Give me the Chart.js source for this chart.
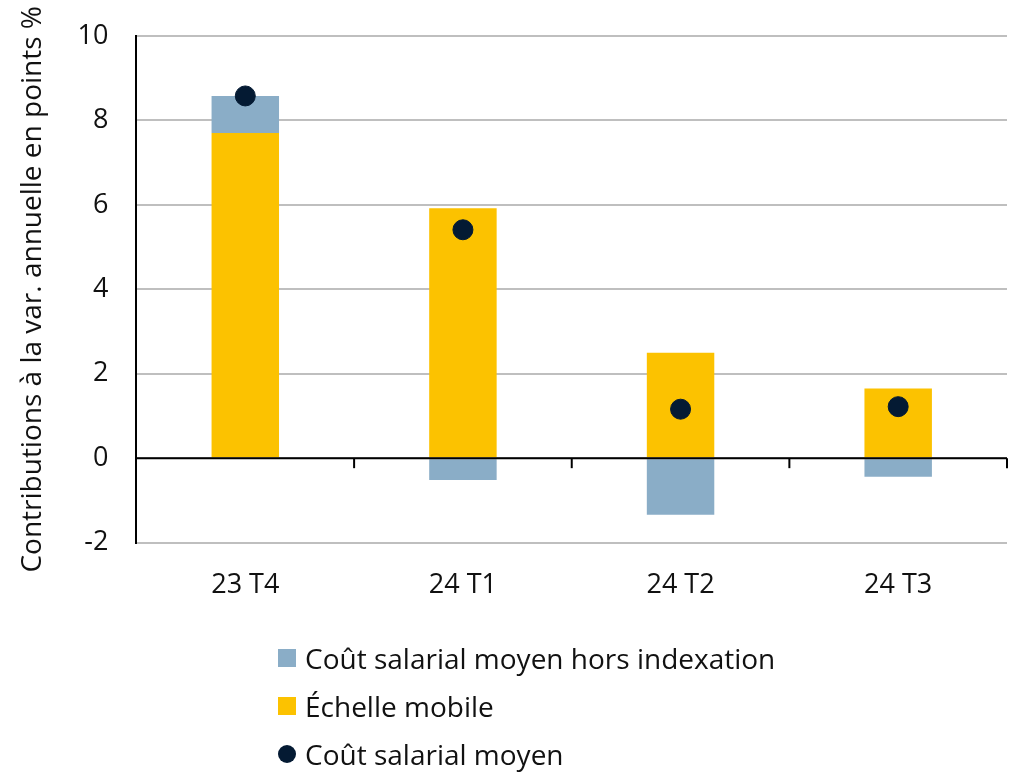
<!DOCTYPE html>
<html>
<head>
<meta charset="utf-8">
<script src="https://cdn.jsdelivr.net/npm/chart.js@4"></script>
<style>
  body { margin: 0; background: #fff; font-family: "Open Sans", sans-serif; }
  #wrap { position: relative; width: 1028px; height: 778px; }
  #legend { position: absolute; left: 278px; top: 634px; }
  .item { display: flex; align-items: center; height: 48px; font-size: 28px; color: #111; }
  .box { width: 18px; height: 18px; margin-right: 9px; }
  .dot { width: 18px; height: 18px; border-radius: 50%; margin-right: 9px; }
</style>
</head>
<body>
<div id="wrap">
  <canvas id="chart" width="1028" height="778"></canvas>
  <div id="legend"></div>
</div>
<script>
// valeurs
const labels = ['23 T4', '24 T1', '24 T2', '24 T3'];
const echelleMobile = [7.70, 5.92, 2.50, 1.65];
const horsIndexation = [0.88, -0.52, -1.34, -0.44];
const coutSalarial = [8.58, 5.41, 1.16, 1.22];
const yTicks = [-2, 0, 2, 4, 6, 8, 10];

const blue = '#8aadc7';
const yellow = '#fcc200';
const navy = '#041a33';

// ligne du zero + petits traits entre categories
const zeroLine = {
  id: 'zeroLine',
  afterDatasetsDraw(chart) {
    const ctx = chart.ctx;
    const x = chart.scales.x, y = chart.scales.y;
    const y0 = y.getPixelForValue(0);
    ctx.save();
    ctx.strokeStyle = '#000';
    ctx.lineWidth = 2;
    ctx.beginPath();
    ctx.moveTo(chart.chartArea.left, y0);
    ctx.lineTo(chart.chartArea.right, y0);
    ctx.stroke();
    for (let i = 1; i <= labels.length; i++) {
      const px = x.getPixelForValue(i - 0.5);
      ctx.beginPath();
      ctx.moveTo(px, y0);
      ctx.lineTo(px, y0 + 10);
      ctx.stroke();
    }
    ctx.restore();
  }
};

const data = {
  labels: labels,
  datasets: [
    {
      type: 'line',
      label: 'Coût salarial moyen',
      data: coutSalarial,
      showLine: false,
      pointRadius: 10,
      pointHoverRadius: 10,
      backgroundColor: navy,
      borderColor: navy,
      stack: 'dots',
      order: 0
    },
    {
      label: 'Échelle mobile',
      data: echelleMobile,
      backgroundColor: yellow,
      stack: 'bars',
      order: 1
    },
    {
      label: 'Coût salarial moyen hors indexation',
      data: horsIndexation,
      backgroundColor: blue,
      stack: 'bars',
      order: 2
    }
  ]
};

const config = {
  type: 'bar',
  data: data,
  options: {
    responsive: false,
    animation: false,
    layout: { padding: { top: 36, right: 21, bottom: 157, left: 16 } },
    datasets: { bar: { categoryPercentage: 1, barPercentage: 0.31 } },
    plugins: { legend: { display: false }, tooltip: { enabled: false } },
    scales: {
      x: {
        stacked: true,
        grid: { display: false },
        border: { display: false },
        ticks: { color: '#111', font: { family: 'Open Sans', size: 27 }, padding: 19 }
      },
      y: {
        stacked: true,
        min: -2,
        max: 10,
        afterBuildTicks: (axis) => { axis.ticks = yTicks.map(v => ({ value: v })); },
        afterFit: (scale) => { scale.paddingTop = 0; },
        grid: { color: '#bfbfbf', lineWidth: 2, drawTicks: false },
        border: { display: true, color: '#000', width: 2 },
        ticks: { color: '#111', font: { family: 'Open Sans', size: 27 }, padding: 28 },
        title: {
          display: true,
          text: 'Contributions à la var. annuelle en points %',
          color: '#111',
          font: { family: 'Open Sans', size: 28 },
          padding: 0
        }
      }
    }
  },
  plugins: [zeroLine]
};

new Chart(document.getElementById('chart'), config);

// legende en html, meme ordre que la reference
const legendItems = [
  { text: 'Coût salarial moyen hors indexation', color: blue, cls: 'box' },
  { text: 'Échelle mobile', color: yellow, cls: 'box' },
  { text: 'Coût salarial moyen', color: navy, cls: 'dot' }
];
const legendDiv = document.getElementById('legend');
legendItems.forEach(it => {
  const row = document.createElement('div');
  row.className = 'item';
  const sw = document.createElement('span');
  sw.className = it.cls;
  sw.style.background = it.color;
  row.appendChild(sw);
  row.appendChild(document.createTextNode(it.text));
  legendDiv.appendChild(row);
});
</script>
</body>
</html>
